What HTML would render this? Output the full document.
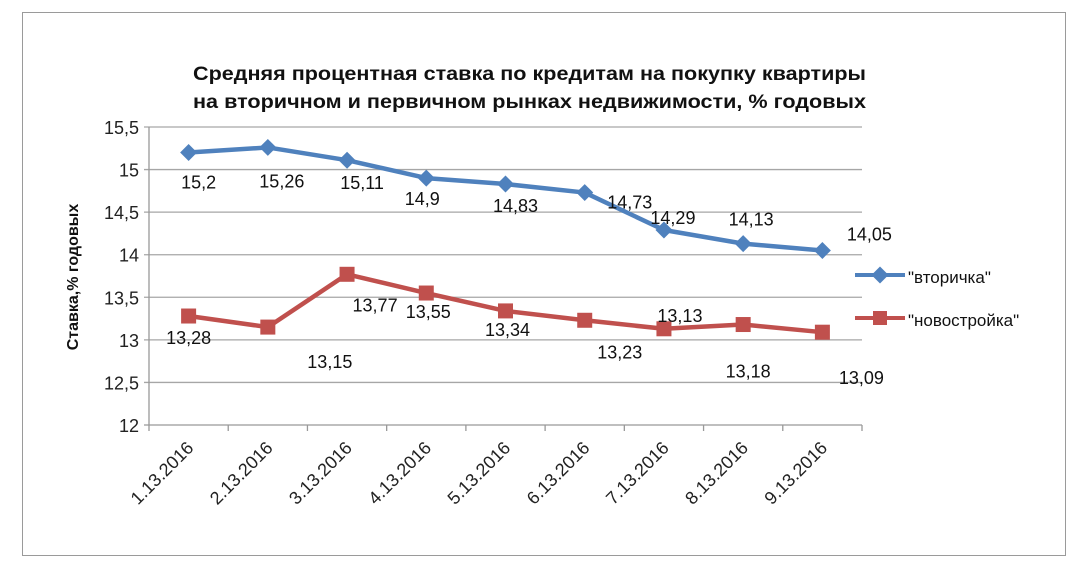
<!DOCTYPE html>
<html><head><meta charset="utf-8"><style>
body{margin:0;background:#fff;}
svg text{font-family:"Liberation Sans","DejaVu Sans",sans-serif;}
</style></head><body>
<svg width="1089" height="577" xmlns="http://www.w3.org/2000/svg">
<rect x="22.5" y="12.5" width="1043" height="543" fill="#fff" stroke="#9a9a9a"/>
<text x="193" y="80" textLength="673" lengthAdjust="spacingAndGlyphs" font-size="19" font-weight="bold" fill="#111">Средняя процентная ставка по кредитам на покупку квартиры</text>
<text x="193" y="108" textLength="673" lengthAdjust="spacingAndGlyphs" font-size="19" font-weight="bold" fill="#111">на вторичном и первичном рынках недвижимости, % годовых</text>
<text transform="translate(78,277) rotate(-90)" text-anchor="middle" font-size="16" font-weight="bold" fill="#111">Ставка,% годовых</text>
<g id="grid"></g><g id="axes"></g><g id="series"></g><g id="labels"></g>
<g>
<line x1="855" y1="275" x2="905" y2="275" stroke="#4f81bd" stroke-width="4"/>
<rect x="874" y="269" width="12" height="12" fill="#4f81bd" transform="rotate(45 880 275)"/>
<text x="908" y="283" font-size="17" fill="#111">"вторичка"</text>
<line x1="855" y1="318" x2="905" y2="318" stroke="#c0504d" stroke-width="4"/>
<rect x="873" y="311" width="14" height="14" fill="#c0504d"/>
<text x="908" y="326" font-size="17" fill="#111">"новостройка"</text>
</g>
</svg>
<script>
const categories=["1.13.2016","2.13.2016","3.13.2016","4.13.2016","5.13.2016","6.13.2016","7.13.2016","8.13.2016","9.13.2016"];
const secondary=[15.2,15.26,15.11,14.9,14.83,14.73,14.29,14.13,14.05];
const newBuild=[13.28,13.15,13.77,13.55,13.34,13.23,13.13,13.18,13.09];
const yTicks=[12,12.5,13,13.5,14,14.5,15,15.5];
const NS="http://www.w3.org/2000/svg";
const x0=149,x1=862,yMin=12,yMax=15.5,yB=425,yT=127;
const step=(x1-x0)/categories.length;
const X=i=>x0+step*(i+0.5);
const Y=v=>yB-(v-yMin)/(yMax-yMin)*(yB-yT);
const fmt=v=>String(v).replace('.',',');
function mk(tag,at,parent){const e=document.createElementNS(NS,tag);for(const k in at)e.setAttribute(k,at[k]);document.getElementById(parent).appendChild(e);return e;}
yTicks.forEach(t=>{
 const g=mk('line',{x1:x0-5,x2:x1,y1:Y(t),y2:Y(t),stroke:t===yMin?'#999':'#a6a6a6','stroke-width':1.3},'grid');
 
 
 const tx=mk('text',{x:x0-10,y:Y(t)+7,'text-anchor':'end','font-size':18,fill:'#222'},'axes');
 tx.textContent=fmt(t);
 
 
});
mk('line',{x1:x0,x2:x0,y1:yT,y2:yB,stroke:'#999','stroke-width':1.3},'axes');
for(let i=0;i<=categories.length;i++){mk('line',{x1:x0+step*i,x2:x0+step*i,y1:yB,y2:yB+6,stroke:'#999','stroke-width':1.3},'axes');}
categories.forEach((c,i)=>{
 const t=mk('text',{x:X(i)+6,y:yB+24,'text-anchor':'end','font-size':18,fill:'#222',transform:`rotate(-45 ${X(i)+6} ${yB+24})`},'axes');
 t.textContent=c;
 
 
});
function series(vals,color,name,marker){
 const p=mk('polyline',{points:vals.map((v,i)=>X(i)+','+Y(v)).join(' '),fill:'none',stroke:color,'stroke-width':4.5,'stroke-linejoin':'round'},'series');
 
 
 vals.forEach((v,i)=>{
  let m;
  if(marker==='d'){m=mk('rect',{x:X(i)-6,y:Y(v)-6,width:12,height:12,fill:color,transform:`rotate(45 ${X(i)} ${Y(v)})`},'series');}
  else{m=mk('rect',{x:X(i)-7.5,y:Y(v)-7.5,width:15,height:15,fill:color},'series');}
  
  
 });
}
series(secondary,'#4f81bd','secondary','d');
series(newBuild,'#c0504d','new','s');
const offS=[[10,36],[14,40],[15,29],[-4,27],[10,28],[45,16],[9,-6],[8,-18],[47,-10]];
const offN=[[0,28],[62,41],[28,37],[2,25],[2,25],[35,38],[16,-7],[5,53],[39,52]];
function labels(vals,off,name){vals.forEach((v,i)=>{
 const t=mk('text',{x:X(i)+off[i][0],y:Y(v)+off[i][1],'text-anchor':'middle','font-size':18,fill:'#111'},'labels');
 t.textContent=fmt(v);
 
 
});}
labels(secondary,offS,'secondary');
labels(newBuild,offN,'new');
</script>
</body></html>
